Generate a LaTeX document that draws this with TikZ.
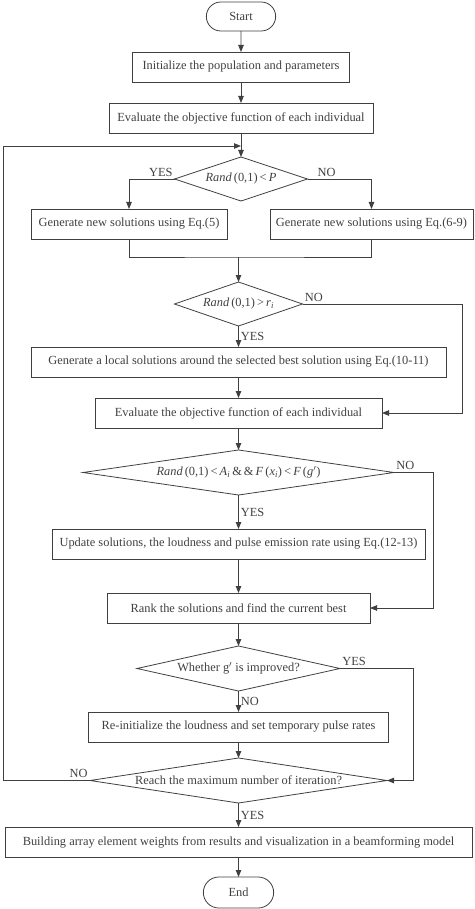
\documentclass[tikz,border=0pt]{standalone}
\usepackage{fontspec}
\setmainfont{Liberation Serif}
\usepackage{tikz}
\usetikzlibrary{positioning,shapes.geometric,shapes.misc,arrows.meta,calc}
\usepackage{xcolor}

\begin{document}
\begin{tikzpicture}[
      node distance=21pt,
      term/.style={rounded rectangle, draw=black!75, line width=0.8pt, outer sep=0pt, text=black!75, minimum height=29pt, minimum width=76pt, font=\fontsize{12.4pt}{14pt}\selectfont},
      box/.style={rectangle, draw=black!75, line width=0.8pt, outer sep=0pt, text=black!75, text centered, minimum height=30pt, inner sep=2pt, font=\fontsize{12.4pt}{14pt}\selectfont},
      decision/.style={diamond, draw=black!75, line width=0.8pt, outer sep=0pt, text=black!75, inner sep=0pt, minimum height=45pt, font=\fontsize{12.4pt}{14pt}\selectfont},
      lbl/.style={text=black!75, inner sep=2pt, font=\fontsize{12.4pt}{14pt}\selectfont},
      line/.style={draw=black!75, line width=0.8pt, -{Triangle[length=7pt,width=5.5pt]}}
  ]
      \useasboundingbox (0,0) rectangle (474pt,-909pt);

      % Nodes - main column, top to bottom
      \node (start) [term] at (241pt,-16.5pt) {Start};
      \node (init) [box, minimum width=217pt, below=of start] {Initialize the population and parameters};
      \node (eval) [box, minimum width=264pt, below=of init] {Evaluate the objective function of each individual};

      \node (rnd) [decision, minimum width=133pt, minimum height=44pt, shape aspect=3, below=24pt of eval] {\textit{Rand}\,(0,1)\,<\,\textit{P}};
      \node (genA) [box, minimum width=196pt, below=8pt of rnd, xshift=-112pt] {Generate new solutions using Eq.(5)};
      \node (genB) [box, minimum width=203pt, below=8pt of rnd, xshift=130.5pt] {Generate new solutions using Eq.(6-9)};

      \node (rloc) [decision, minimum width=128pt, minimum height=44pt, shape aspect=2.9, below=81pt of rnd, xshift=-2.5pt] {\textit{Rand}\,(0,1)\,>\,\textit{r}\textsubscript{\textit{i}}};
      \node (localsol) [box, minimum width=415pt, below=of rloc] {Generate a local solutions around the selected best solution using Eq.(10-11)};
      \node (eval2) [box, minimum width=287pt, below=of localsol] {Evaluate the objective function of each individual};

      \node (cond) [decision, minimum width=311pt, shape aspect=6.9, below=22pt of eval2] {\textit{Rand}\,(0,1)\,<\,\textit{A}\textsubscript{\textit{i}}\,\&\,\&\,\textit{F}\,(\textit{x}\textsubscript{\textit{i}})\,<\,\textit{F}\,(\textit{g}$'$)};
      \node (update) [box, minimum width=373pt, below=34pt of cond] {Update solutions, the loudness and pulse emission rate using Eq.(12-13)};
      \node (rank) [box, minimum width=263pt, below=34pt of update] {Rank the solutions and find the current best};

      \node (improved) [decision, minimum width=203pt, shape aspect=4.5, below=23pt of rank] {Whether g$'$ is improved?};
      \node (reinit) [box, minimum width=300pt, below=of improved] {Re-initialize the loudness and set temporary pulse rates};
      \node (maxit) [decision, minimum width=297pt, shape aspect=6.6, below=16pt of reinit] {Reach the maximum number of iteration?};

      \node (build) [box, minimum width=467pt, below=24pt of maxit] {Building array element weights from results and visualization in a beamforming model};
      \node (finish) [term, minimum height=31pt, minimum width=77pt, below=20pt of build] {End};

      % Helper points for merging and looping back
      \coordinate (merge) at ([yshift=25pt]rloc.north);
      \coordinate (loopin) at ([yshift=11pt]rnd.north);

      % Connections
      \path [line] (start) -- (init);
      \path [line] (init) -- (eval);
      \path [line] (eval) -- (rnd);
      \path [line] (rnd.west) -| node[lbl, above, pos=0.15] {YES} (genA.north);
      \path [line] (rnd.east) -| node[lbl, above, pos=0.15] {NO} (genB.north);
      \draw [black!75, line width=0.8pt] (genA.south) |- (merge) -| (genB.south);
      \path [line] (merge) -- (rloc);
      \path [line] (rloc) -- node[lbl, right] {YES} (localsol);
      \path [line] (rloc.east) -- node[lbl, above right, at start] {NO} ++(160pt,0) |- (eval2.east);
      \path [line] (localsol) -- (eval2);
      \path [line] (eval2) -- (cond);
      \path [line] (cond) -- node[lbl, right] {YES} (update);
      \path [line] (cond.east) -- node[lbl, above right, at start] {NO} ++(39pt,0) |- (rank.east);
      \path [line] (update) -- (rank);
      \path [line] (rank) -- (improved);
      \path [line] (improved) -- node[lbl, right] {NO} (reinit);
      \path [line] (improved.east) -- node[lbl, above right, at start] {YES} ++(73pt,0) |- (maxit.east);
      \path [line] (reinit) -- (maxit);
      \path [line] (maxit.west) -- node[lbl, above left, at start] {NO} ++(-87pt,0) |- (loopin);
      \path [line] (maxit) -- node[lbl, right] {YES} (build);
      \path [line] (build) -- (finish);
  \end{tikzpicture}
\end{document}
